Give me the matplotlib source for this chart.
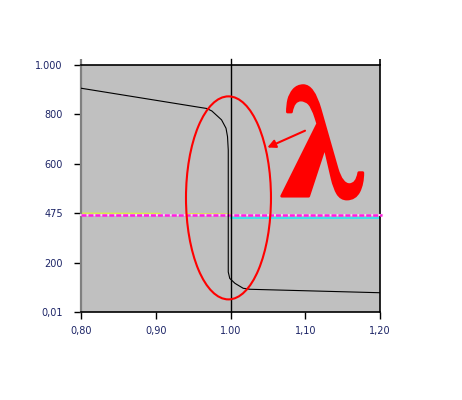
import matplotlib
matplotlib.use("Agg")
import matplotlib.pyplot as plt
from matplotlib.patches import Ellipse
from matplotlib import transforms
import matplotlib.patheffects as pe

# --- datos (eje y en posiciones de categoría 0..5) ---
x_ticks = [0.80, 0.90, 1.00, 1.10, 1.20]
x_labels = ["0,80", "0,90", "1.00", "1,10", "1,20"]
y_ticks = [0, 1, 2, 3, 4, 5]
y_labels = ["0,01", "200", "475", "600", "800", "1.000"]

curva_x = [0.80, 0.968, 0.975, 0.988, 0.994, 0.996, 0.997, 0.997, 0.999, 1.006, 1.017, 1.026, 1.20]
curva_y = [4.53, 4.12, 4.07, 3.89, 3.72, 3.55, 3.28, 0.81, 0.68, 0.58, 0.48, 0.46, 0.39]

amarilla_x = [0.80, 0.906, 0.942, 1.00]
amarilla_y = [2.00, 1.995, 1.985, 1.98]
cian_x = [1.00, 1.203]
cian_y = [1.91, 1.91]
magenta_x = [0.80, 1.203]
magenta_y = [1.955, 1.955]

elipse_centro = (0.9973, 2.31)
elipse_ancho = 0.1137
elipse_alto = 4.11

flecha_desde = (1.0997, 3.67)
flecha_hasta = (1.0493, 3.33)
lambda_pos = (1.122, 3.22)

plt.rcParams["lines.scale_dashes"] = False
plt.rcParams["mathtext.fontset"] = "stix"
texto = "#1c2466"

fig = plt.figure(figsize=(4.62, 4.0), dpi=100)
ax = fig.add_axes([81 / 462, 1 - 312 / 400, 299 / 462, 247 / 400])
ax.set_facecolor("#c0c0c0")
ax.set_xlim(0.80, 1.20)
ax.set_ylim(0, 5)

# líneas horizontales
ax.plot(amarilla_x[:2], amarilla_y[:2], color="#d8f040", lw=1.0, zorder=2)
ax.plot(amarilla_x[2:], amarilla_y[2:], color="#e8f020", lw=1.0, zorder=2)
ax.plot(cian_x, cian_y, color="#40e0e8", lw=1.5, zorder=2)
ax.plot(magenta_x, magenta_y, color="#f0d8f0", lw=1.5, zorder=3, clip_on=False)
ax.plot(magenta_x, magenta_y, color="#ff20e0", lw=1.8, dashes=(3.6, 1.4),
        zorder=4, clip_on=False)

# curva negra
ax.plot(curva_x, curva_y, color="black", lw=0.8, zorder=5)

# línea vertical en 1.00
ax.axvline(1.00, ymin=0, ymax=1.025, color="black", lw=1.0, clip_on=False, zorder=6)

# elipse y flecha
ax.add_patch(Ellipse(elipse_centro, elipse_ancho, elipse_alto, fill=False,
                     edgecolor="#ff0000", lw=1.5, zorder=7))
ax.annotate("", xy=flecha_hasta, xytext=flecha_desde,
            arrowprops=dict(arrowstyle="-|>", color="#ff0000", lw=1.5,
                            mutation_scale=12, shrinkA=0, shrinkB=0), zorder=8)
ax.text(lambda_pos[0], lambda_pos[1], r"$\mathbf{\lambda}$", color="#ff0000", fontsize=115,
        ha="center", va="center", zorder=8,
        path_effects=[pe.withStroke(linewidth=2, foreground="#ff0000")])

# ejes
for lado in ["top", "bottom", "right"]:
    ax.spines[lado].set_color("black")
    ax.spines[lado].set_linewidth(1.2)
ax.spines["left"].set_color("#808080")
ax.spines["left"].set_linewidth(1.6)

trans = transforms.blended_transform_factory(ax.transData, ax.transAxes)
ax.vlines([0.80, 1.20], 1.0, 1.025, transform=trans, colors=["#808080", "black"],
          lw=[1.6, 1.2], clip_on=False)

ax.set_xticks(x_ticks)
ax.set_xticklabels(x_labels)
ax.set_yticks(y_ticks)
ax.set_yticklabels(y_labels)
ax.tick_params(axis="both", direction="out", length=5, width=1, color="black",
               labelsize=7, labelcolor=texto)
ax.tick_params(axis="y", pad=8)
ax.tick_params(axis="x", pad=5)

fig.savefig("out.png", dpi=100)
